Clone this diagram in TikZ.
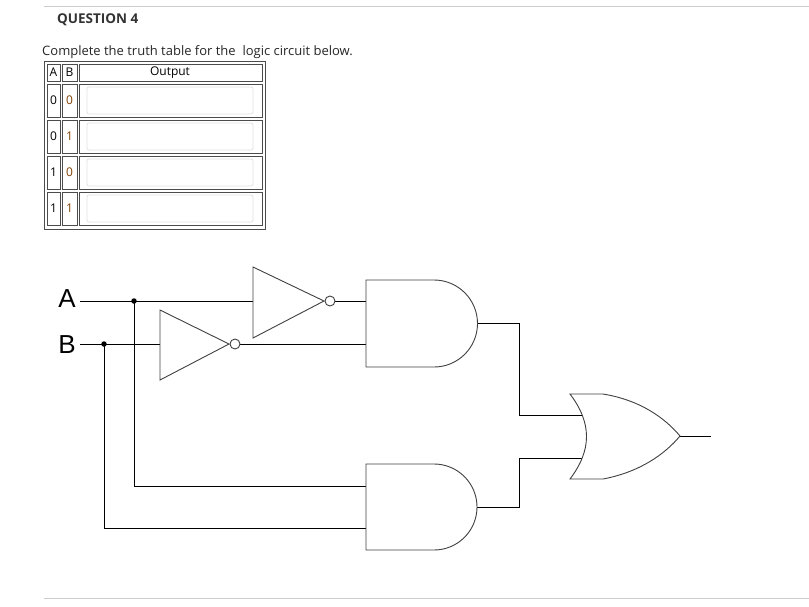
\documentclass[tikz,border=0pt]{standalone}
\usepackage{fontspec}
\setmainfont{Open Sans}
\newfontfamily\arialf{Liberation Sans}
\begin{document}
\begin{tikzpicture}[x=1pt,y=-1pt,
  wire/.style={line width=0.9pt},
  gate/.style={draw=black!75,line width=0.9pt,fill=white},
  cell/.style={draw=black!70,line width=0.8pt},
  inbox/.style={draw=black!12,rounded corners=2pt,line width=0.8pt},
  dotn/.style={circle,fill=black,inner sep=0pt,minimum size=5.5pt},
  tt/.style={font=\fontsize{12}{13}\selectfont,inner sep=0pt},
  big/.style={font=\arialf\fontsize{26}{28}\selectfont,inner sep=0pt}]
\useasboundingbox (0,0) rectangle (809,606);
\draw[black!20,line width=0.8pt] (44,6) -- (809,6);
\draw[black!20,line width=0.8pt] (44,598) -- (809,598);
\node[anchor=west,font=\fontsize{13.5}{15}\selectfont\bfseries,text=black!80,inner sep=0pt] (q) at (57,20) {QUESTION 4};
\node[anchor=west,font=\fontsize{13}{15}\selectfont,text=black!85,inner sep=0pt] (t) at (42,52) {Complete the truth table for the\ \ logic circuit below.};
% table
\draw[cell] (44,61) rectangle (265,229);
\draw[cell] (47,64) rectangle (60,81);
\draw[cell] (62,64) rectangle (77,81);
\draw[cell] (79,64) rectangle (262,81);
\node[tt] at (53.5,72.5) {A};
\node[tt] at (69.5,72.5) {B};
\node[tt] at (170,72.5) {Output};
\foreach \y/\a/\b in {84/0/0,120/0/1,156/1/0,192/1/1}{
  \draw[cell] (47,\y) rectangle (60,\y+33);
  \draw[cell] (62,\y) rectangle (77,\y+33);
  \draw[cell] (79,\y) rectangle (262,\y+33);
  \draw[inbox] (87,\y+3) rectangle (253,\y+30);
  \node[tt] at (53.5,\y+16.5) {\a};
  \node[tt,text=orange!50!black] at (69.5,\y+16.5) {\b};
}
% labels
\node[big] (A) at (67,299) {A};
\node[big] (B) at (67,345) {B};
\coordinate (da) at (134,301);
\coordinate (db) at (104,344);
% wires
\draw[wire] (80,301) -- (253,301);
\draw[wire] (80,344) -- (160,344);
\draw[wire] (da) -- (134,486) -- (366,486);
\draw[wire] (db) -- (104,528) -- (366,528);
\draw[wire] (335,301) -- (366,301);
\draw[wire] (240,344) -- (366,344);
\draw[wire] (477,323) -- (519,323) -- (519,415) -- (584,415);
\draw[wire] (477,507) -- (519,507) -- (519,458) -- (584,458);
\draw[wire] (680,436) -- (711,436);
% inverters
\draw[gate] (253,267) -- (324,301) -- (253,338) -- cycle;
\draw[gate] (330,301) circle (5);
\draw[gate] (160,310) -- (229,344) -- (160,380) -- cycle;
\draw[gate] (235,344) circle (5);
% AND gates
\draw[gate] (366,280) -- (434,280) arc[start angle=-90,end angle=90,radius=43.5] -- (366,367) -- cycle;
\draw[gate] (366,464) -- (434,464) arc[start angle=-90,end angle=90,radius=43] -- (366,550) -- cycle;
% OR gate
\draw[gate] (570,394) -- (603,394) .. controls (640,400) and (665,418) .. (680,436)
  .. controls (665,454) and (640,472) .. (603,479) -- (570,479)
  .. controls (592,450) and (592,423) .. (570,394) -- cycle;
\node[dotn] at (da) {};
\node[dotn] at (db) {};
\end{tikzpicture}
\end{document}
